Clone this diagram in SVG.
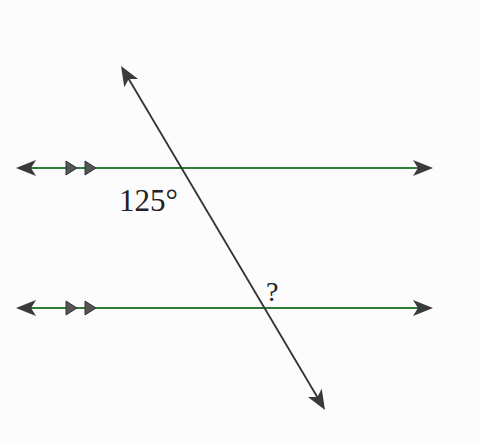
<svg xmlns="http://www.w3.org/2000/svg" width="480" height="443" viewBox="0 0 480 443">
<style>
.ln{stroke:#2f7a35;stroke-width:2;fill:none}
.tr{stroke:#333;stroke-width:1.8;fill:none}
.ah{fill:#3a3a3a}
.tk{fill:#555;stroke:#333;stroke-width:1}
.lbl{font-family:"Liberation Serif",serif;fill:#222}
</style>
<rect width="480" height="443" fill="#fcfcfc"/>
<g id="connectors">
<line class="ln" x1="20" y1="168" x2="428" y2="168"/>
<line class="ln" x1="20" y1="308" x2="428" y2="308"/>
<line class="tr" x1="124" y1="71" x2="322" y2="405"/>
</g>
<g id="arrowheads">
<path class="ah" d="M16,168 L36,160 L31,168 L36,176 Z"/>
<path class="ah" d="M433,168 L413,160 L418,168 L413,176 Z"/>
<path class="ah" d="M16,308 L36,300 L31,308 L36,316 Z"/>
<path class="ah" d="M433,308 L413,300 L418,308 L413,316 Z"/>
<path class="ah" d="M121,66 L138.1,79.1 L128.7,78.9 L124.3,87.3 Z"/>
<path class="ah" d="M325,410 L321.7,388.7 L317.4,397.1 L307.9,396.9 Z"/>
</g>
<g id="ticks">
<path class="tk" d="M66,161 L77,168 L66,175 Z"/>
<path class="tk" d="M85,161 L96,168 L85,175 Z"/>
<path class="tk" d="M66,301 L77,308 L66,315 Z"/>
<path class="tk" d="M85,301 L96,308 L85,315 Z"/>
</g>
<g id="labels">
<text class="lbl" x="119" y="211" font-size="31">125°</text>
<text class="lbl" x="266" y="301" font-size="28">?</text>
</g>
</svg>
